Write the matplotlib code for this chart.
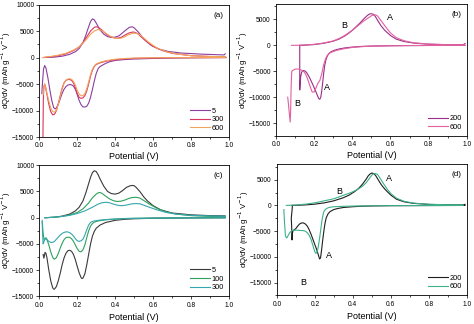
import matplotlib
matplotlib.use("Agg")
import matplotlib.pyplot as plt
from matplotlib.ticker import MultipleLocator

plt.rcParams['font.family'] = ['Liberation Sans', 'DejaVu Sans']

# ---------------- panel (a) ----------------
a5_chg_x = [0.03,0.08,0.12,0.16,0.19,0.21,0.23,0.245,0.26,0.27,0.28,0.29,0.30,0.32,0.34,0.36,0.38,0.40,0.42,0.44,0.46,0.475,0.49,0.50,0.52,0.54,0.56,0.59,0.63,0.68,0.75,0.85,0.95,0.975,0.98]
a5_chg_y = [0,80,250,600,1100,1700,2800,4200,5800,6800,7300,7100,6500,5200,4400,3950,3800,3850,4100,4700,5300,5700,5800,5600,4900,4000,3200,2300,1600,1150,850,650,520,500,700]
a5_dis_x = [0.985,0.9,0.8,0.7,0.6,0.5,0.45,0.40,0.37,0.35,0.335,0.32,0.31,0.30,0.29,0.28,0.27,0.26,0.25,0.24,0.23,0.22,0.21,0.20,0.19,0.18,0.17,0.16,0.15,0.14,0.13,0.12,0.11,0.10,0.09,0.083,0.075,0.065,0.055,0.045,0.035,0.028,0.022,0.017,0.013]
a5_dis_y = [0,-20,-50,-100,-170,-280,-380,-550,-800,-1100,-1400,-1700,-2100,-3000,-4400,-6000,-7500,-8600,-9200,-9350,-9300,-8900,-8100,-7000,-6000,-5400,-5150,-5100,-5200,-5500,-6000,-6800,-7800,-8800,-9500,-9700,-9400,-8000,-6000,-3800,-2000,-1500,-2200,-4500,-6800]

a300_chg_x = [0.02,0.06,0.1,0.14,0.18,0.21,0.23,0.25,0.27,0.29,0.30,0.31,0.33,0.35,0.37,0.39,0.41,0.43,0.45,0.47,0.49,0.50,0.52,0.54,0.57,0.6,0.65,0.7,0.8,0.9,0.98]
a300_chg_y = [0,150,350,700,1300,2000,2800,3900,5000,5700,5800,5700,5200,4500,4000,3750,3650,3800,4200,4600,4800,4800,4500,3800,2900,2100,1300,800,350,200,150]
a300_dis_x = [0.98,0.8,0.7,0.6,0.5,0.45,0.4,0.35,0.32,0.30,0.29,0.28,0.27,0.26,0.25,0.24,0.23,0.22,0.21,0.20,0.19,0.18,0.17,0.16,0.15,0.14,0.13,0.12,0.11,0.10,0.09,0.08,0.07,0.06,0.05,0.04,0.033,0.028,0.024,0.021,0.019]
a300_dis_y = [0,-20,-40,-80,-150,-250,-400,-700,-1000,-1300,-1700,-2400,-3500,-5000,-6300,-7200,-7600,-7700,-7500,-6800,-5700,-4800,-4300,-4150,-4150,-4300,-4800,-5800,-7200,-8700,-10000,-10700,-10800,-10200,-8800,-7000,-5600,-5000,-5500,-8000,-15000]

a600_chg_x = [0.02,0.06,0.1,0.14,0.18,0.21,0.23,0.25,0.27,0.29,0.31,0.33,0.35,0.37,0.39,0.41,0.43,0.45,0.47,0.49,0.51,0.53,0.55,0.58,0.62,0.67,0.72,0.8,0.9,0.98]
a600_chg_y = [0,200,450,800,1400,2000,2700,3500,4400,5000,5300,5100,4600,4100,3750,3600,3650,3900,4300,4550,4600,4300,3700,2800,1800,1100,700,350,200,150]
a600_dis_x = [0.98,0.8,0.7,0.6,0.5,0.45,0.4,0.35,0.32,0.30,0.29,0.28,0.27,0.26,0.25,0.24,0.23,0.22,0.21,0.20,0.19,0.18,0.17,0.16,0.15,0.14,0.13,0.12,0.11,0.10,0.09,0.08,0.07,0.06,0.05,0.04,0.033,0.028,0.024,0.02]
a600_dis_y = [0,-10,-20,-40,-100,-180,-320,-600,-900,-1200,-1600,-2200,-3200,-4600,-5900,-6800,-7200,-7200,-6900,-6200,-5200,-4500,-4100,-4000,-4050,-4300,-4900,-6000,-7400,-8800,-9900,-10300,-10200,-9500,-8200,-6700,-5500,-5000,-5500,-7000]

# ---------------- panel (b) ----------------
b200_chg_x = [0.127,0.15,0.2,0.25,0.3,0.33,0.36,0.38,0.4,0.42,0.44,0.46,0.48,0.49,0.50,0.51,0.52,0.53,0.55,0.57,0.6,0.63,0.67,0.72,0.8,0.9,0.98,0.99]
b200_chg_y = [0,30,150,400,800,1200,1800,2300,2900,3600,4300,5100,5800,6050,6100,6000,5600,5000,3800,2900,1900,1200,750,450,220,120,100,350]
b200_dis_x = [0.99,0.9,0.8,0.7,0.6,0.5,0.45,0.4,0.36,0.33,0.31,0.29,0.28,0.27,0.262,0.255,0.25,0.245,0.24,0.235,0.23,0.225,0.22,0.21,0.20,0.19,0.18,0.17,0.16,0.15,0.145,0.14,0.135,0.13,0.127,0.125,0.125]
b200_dis_y = [0,-10,-20,-40,-70,-130,-200,-330,-500,-700,-900,-1200,-1500,-2000,-2800,-4000,-5500,-7200,-8800,-10000,-10400,-10300,-9900,-9000,-8100,-7300,-6500,-5800,-5200,-4900,-4850,-4900,-5200,-6000,-7500,-8600,0]

b600_chg_x = [0.082,0.12,0.2,0.25,0.3,0.33,0.36,0.38,0.4,0.42,0.44,0.46,0.48,0.50,0.51,0.52,0.53,0.54,0.56,0.58,0.6,0.63,0.67,0.72,0.8,0.9,0.98,0.99]
b600_chg_y = [0,20,200,450,850,1300,1900,2400,2900,3500,4100,4700,5200,5700,5850,5900,5750,5300,4300,3300,2400,1500,900,500,250,130,100,300]
b600_dis_x = [0.99,0.9,0.8,0.7,0.6,0.5,0.45,0.4,0.35,0.32,0.30,0.28,0.27,0.26,0.25,0.24,0.23,0.22,0.21,0.20,0.19,0.18,0.17,0.16,0.15,0.14,0.13,0.12,0.11,0.10,0.09,0.083,0.08,0.077,0.075,0.07,0.065,0.062]
b600_dis_y = [0,-10,-20,-40,-80,-150,-250,-400,-700,-950,-1200,-1500,-1900,-2600,-3800,-5500,-6800,-7300,-8200,-9000,-9000,-8000,-6900,-5900,-5200,-4900,-4700,-4600,-4550,-4600,-4800,-5000,-8000,-13000,-14800,-13000,-11000,-10000]

# ---------------- panel (c) ----------------
c5_chg_x = [0.03,0.08,0.12,0.16,0.19,0.21,0.23,0.245,0.26,0.27,0.28,0.29,0.30,0.31,0.32,0.34,0.36,0.38,0.40,0.42,0.44,0.46,0.48,0.49,0.50,0.51,0.53,0.55,0.57,0.6,0.64,0.7,0.8,0.9,0.98]
c5_chg_y = [0,100,300,700,1300,2000,3200,4700,6500,7700,8600,8950,8800,8200,7400,6000,5000,4600,4500,4700,5200,5800,6100,6150,6100,5800,5000,4000,3200,2300,1500,900,550,400,350]
c5_dis_x = [0.98,0.8,0.6,0.5,0.45,0.4,0.35,0.32,0.30,0.29,0.28,0.27,0.26,0.25,0.24,0.23,0.225,0.22,0.21,0.20,0.19,0.18,0.17,0.16,0.15,0.14,0.13,0.12,0.11,0.10,0.09,0.08,0.075,0.07,0.06,0.05,0.045,0.04,0.035,0.03,0.027,0.024,0.02]
c5_dis_y = [0,-30,-100,-200,-300,-500,-900,-1400,-2000,-2600,-3500,-5000,-7000,-9000,-10700,-11500,-11600,-11400,-10500,-9300,-8000,-7000,-6400,-6200,-6300,-6800,-7700,-9000,-10600,-12000,-13100,-13600,-13600,-13300,-12000,-10000,-8800,-7600,-6800,-6600,-7200,-7700,-7000]

c100_chg_x = [0.03,0.08,0.12,0.16,0.2,0.23,0.26,0.28,0.30,0.31,0.32,0.33,0.35,0.37,0.39,0.41,0.43,0.45,0.47,0.49,0.51,0.53,0.55,0.58,0.62,0.67,0.72,0.8,0.9,0.98]
c100_chg_y = [0,100,250,550,1000,1700,2800,3800,4500,4750,4800,4650,4100,3600,3250,3100,3150,3350,3650,3850,3900,3750,3300,2600,1800,1100,700,400,250,200]
c100_dis_x = [0.98,0.8,0.6,0.5,0.45,0.4,0.35,0.32,0.30,0.29,0.28,0.27,0.26,0.25,0.24,0.23,0.22,0.21,0.20,0.19,0.18,0.17,0.16,0.15,0.14,0.13,0.12,0.11,0.10,0.09,0.08,0.075,0.07,0.06,0.05,0.04,0.035,0.03,0.025,0.02,0.017,0.015]
c100_dis_y = [0,-20,-60,-100,-150,-250,-400,-550,-700,-850,-1100,-1600,-2500,-3800,-5200,-6100,-6500,-6400,-5900,-5200,-4500,-4000,-3750,-3700,-3800,-4200,-4900,-5800,-6800,-7600,-7900,-7800,-7500,-6500,-5200,-4100,-3800,-4000,-4200,-3000,-1500,-800]

c300_chg_x = [0.03,0.08,0.12,0.16,0.2,0.24,0.28,0.31,0.33,0.35,0.37,0.39,0.41,0.43,0.45,0.47,0.49,0.51,0.53,0.55,0.58,0.62,0.67,0.72,0.8,0.9,0.98]
c300_chg_y = [0,100,250,450,800,1300,2000,2600,2850,2950,2850,2600,2400,2300,2350,2500,2650,2700,2650,2400,2000,1500,1000,700,450,350,300]
c300_dis_x = [0.98,0.8,0.6,0.5,0.45,0.4,0.35,0.32,0.30,0.28,0.27,0.26,0.25,0.24,0.23,0.22,0.21,0.20,0.19,0.18,0.17,0.16,0.15,0.14,0.13,0.12,0.11,0.10,0.09,0.08,0.07,0.06,0.055,0.05,0.04,0.035,0.03,0.025,0.02,0.017,0.015]
c300_dis_y = [0,-30,-80,-130,-180,-250,-350,-450,-550,-700,-900,-1400,-2300,-3300,-4100,-4400,-4500,-4400,-4000,-3500,-3100,-2850,-2700,-2700,-2800,-3000,-3300,-3700,-4100,-4500,-4700,-4700,-4600,-4500,-4200,-4000,-4100,-4500,-5000,-3000,-500]

# ---------------- panel (d) ----------------
d200_chg_x = [0.08,0.15,0.2,0.25,0.3,0.35,0.38,0.41,0.43,0.45,0.47,0.48,0.49,0.50,0.51,0.52,0.53,0.55,0.57,0.6,0.63,0.67,0.72,0.8,0.9,0.98,0.99]
d200_chg_y = [0,100,250,500,900,1500,2000,2700,3300,4100,5100,5700,6100,6300,6200,5800,5200,4000,3100,2000,1200,700,400,200,120,100,200]
d200_dis_x = [0.99,0.8,0.6,0.5,0.45,0.4,0.35,0.32,0.3,0.28,0.27,0.26,0.255,0.25,0.245,0.24,0.235,0.23,0.225,0.22,0.21,0.2,0.19,0.18,0.17,0.16,0.15,0.14,0.13,0.12,0.11,0.1,0.09,0.085,0.082,0.08,0.078,0.076,0.08,0.082]
d200_dis_y = [0,-20,-50,-100,-150,-250,-400,-600,-800,-1200,-1600,-2400,-3200,-4300,-5700,-7200,-8800,-10200,-10400,-9800,-8600,-7600,-6600,-5600,-4700,-4000,-3600,-3400,-3400,-3600,-4000,-4500,-4800,-4900,-5500,-6700,-4000,-2500,-1000,0]

d600_chg_x = [0.05,0.1,0.15,0.2,0.25,0.3,0.33,0.36,0.39,0.42,0.45,0.47,0.49,0.50,0.51,0.52,0.53,0.54,0.56,0.58,0.6,0.63,0.67,0.72,0.8,0.9,0.98]
d600_chg_y = [0,80,250,500,900,1300,1700,2100,2500,3000,3700,4400,5400,5900,6150,6200,6000,5500,4300,3200,2300,1400,800,450,220,130,100]
d600_dis_x = [0.98,0.8,0.6,0.5,0.4,0.35,0.3,0.28,0.27,0.26,0.25,0.245,0.24,0.235,0.23,0.225,0.22,0.215,0.21,0.205,0.2,0.19,0.18,0.17,0.16,0.15,0.14,0.12,0.1,0.09,0.08,0.07,0.06,0.055,0.05,0.045,0.04,0.037]
d600_dis_y = [0,-20,-40,-70,-120,-170,-250,-350,-450,-650,-1000,-1500,-2400,-3600,-5000,-6400,-7600,-8600,-9200,-9300,-9000,-7800,-6600,-5800,-5300,-5000,-4900,-4850,-4800,-4800,-4900,-5200,-5800,-6200,-6300,-5800,-3000,-800]

panel_tags = ['(a)', '(b)', '(c)', '(d)']
x_label = 'Potential (V)'
y_label = 'dQ/dV (mAh g$^{-1}$ V$^{-1}$)'

fig = plt.figure(figsize=(4.74, 3.24), dpi=100)
rects = [
    [0.083, 0.577, 0.400, 0.409],
    [0.582, 0.580, 0.403, 0.408],
    [0.083, 0.085, 0.400, 0.405],
    [0.584, 0.088, 0.401, 0.405],
]
axes = [fig.add_axes(r) for r in rects]

def draw(ax, series):
    for (lab, col, cx, cy, dx, dy) in series:
        ax.plot(cx, cy, color=col, lw=0.8, label=lab)
        ax.plot(dx, dy, color=col, lw=0.8)

draw(axes[0], [
    ('5', '#8B3FA0', a5_chg_x, a5_chg_y, a5_dis_x, a5_dis_y),
    ('300', '#D8365E', a300_chg_x, a300_chg_y, a300_dis_x, a300_dis_y),
    ('600', '#F3A45C', a600_chg_x, a600_chg_y, a600_dis_x, a600_dis_y),
])
draw(axes[1], [
    ('200', '#9A2E88', b200_chg_x, b200_chg_y, b200_dis_x, b200_dis_y),
    ('600', '#E2609E', b600_chg_x, b600_chg_y, b600_dis_x, b600_dis_y),
])
draw(axes[2], [
    ('5', '#3A3A3A', c5_chg_x, c5_chg_y, c5_dis_x, c5_dis_y),
    ('100', '#2FA05C', c100_chg_x, c100_chg_y, c100_dis_x, c100_dis_y),
    ('300', '#36A6AE', c300_chg_x, c300_chg_y, c300_dis_x, c300_dis_y),
])
draw(axes[3], [
    ('200', '#1E1E1E', d200_chg_x, d200_chg_y, d200_dis_x, d200_dis_y),
    ('600', '#3DB08C', d600_chg_x, d600_chg_y, d600_dis_x, d600_dis_y),
])

ylims = [(-15000, 10000), (-17500, 8000), (-15000, 10000), (-17500, 8000)]
yticks = [[-15000, -10000, -5000, 0, 5000, 10000],
          [-15000, -10000, -5000, 0, 5000],
          [-15000, -10000, -5000, 0, 5000, 10000],
          [-15000, -10000, -5000, 0, 5000]]
xpads = [2, 2, 3, 3]

for i, (ax, tag, yl, yt) in enumerate(zip(axes, panel_tags, ylims, yticks)):
    ax.set_xlim(0.0, 1.0)
    ax.set_ylim(*yl)
    ax.set_xticks([0.0, 0.2, 0.4, 0.6, 0.8, 1.0])
    ax.set_yticks(yt)
    ax.xaxis.set_minor_locator(MultipleLocator(0.1))
    ax.yaxis.set_minor_locator(MultipleLocator(2500))
    ax.tick_params(which='both', direction='out', labelsize=4.8, width=0.5,
                   top=False, right=False, pad=1.5)
    ax.tick_params(which='major', length=2.2)
    ax.tick_params(which='minor', length=1.3)
    for s in ax.spines.values():
        s.set_linewidth(0.6)
    ax.set_xlabel(x_label, fontsize=6.5, labelpad=xpads[i])
    ax.set_ylabel(y_label, fontsize=5.6)
    w_px = ax.get_position().width * 474
    ax.yaxis.set_label_coords(-26.0 / w_px, 0.5)
    ax.text(0.945, 0.92, tag, transform=ax.transAxes, ha='center', va='center', fontsize=5.8)
    ax.legend(loc='lower right', fontsize=5.3, frameon=False, handlelength=2.6,
              handletextpad=0.25, labelspacing=0.2, borderaxespad=0.3)

# peak annotations
axes[1].text(0.60, 5300, 'A', fontsize=6.5, ha='center', va='center')
axes[1].text(0.36, 3800, 'B', fontsize=6.5, ha='center', va='center')
axes[1].text(0.27, -8200, 'A', fontsize=6.5, ha='center', va='center')
axes[1].text(0.11, -11200, 'B', fontsize=6.5, ha='center', va='center')
axes[3].text(0.59, 5300, 'A', fontsize=6.5, ha='center', va='center')
axes[3].text(0.33, 2800, 'B', fontsize=6.5, ha='center', va='center')
axes[3].text(0.275, -9700, 'A', fontsize=6.5, ha='center', va='center')
axes[3].text(0.14, -15000, 'B', fontsize=6.5, ha='center', va='center')

fig.savefig('out.png', dpi=100)
